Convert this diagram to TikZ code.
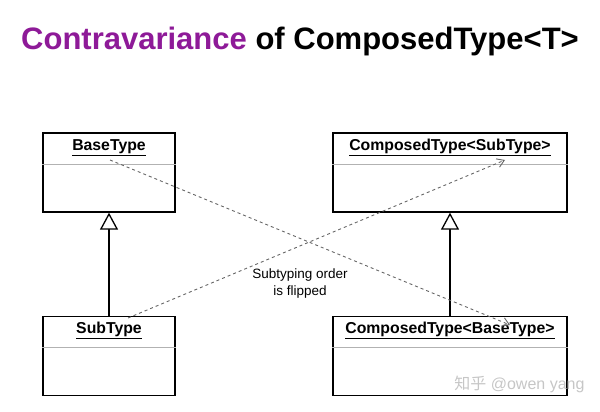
\documentclass[tikz,border=0pt]{standalone}
\usepackage{fontspec}
\setmainfont{Liberation Sans}
\newfontfamily\cjk{Noto Sans CJK SC}
\usetikzlibrary{arrows.meta}
\definecolor{purp}{HTML}{8E1A98}
\begin{document}
\begin{tikzpicture}[x=1pt,y=-1pt,
  cls/.style={draw,line width=1.3pt,minimum width=#1,minimum height=79,inner sep=0},
  lbl/.style={font=\bfseries\fontsize{15.8}{18}\selectfont},
  dep/.style={draw=gray!80!black,dashed,line width=0.9pt,-{Straight Barb[length=7,width=9]}},
  inh/.style={draw,line width=1.3pt,-{Triangle[open,length=17,width=18,fill=white]}}]
\useasboundingbox (0,0) rectangle (600,412);
\node[font=\bfseries\fontsize{31}{34}\selectfont] (title) at (300,41) {\textcolor{purp}{Contravariance} of ComposedType<T>};
\node[cls=132] (base) at (109,172.5) {};
\node[cls=234] (ctsub) at (450,172.5) {};
\node[cls=132] (sub) at (109,356) {};
\node[cls=234] (ctbase) at (450,356) {};
\foreach \n/\t in {base/BaseType,ctsub/ComposedType<SubType>,sub/SubType,ctbase/ComposedType<BaseType>}{
  \draw[gray!60,line width=1pt] ([yshift=-32]\n.north west) -- ([yshift=-32]\n.north east);
  \node[lbl,anchor=center] (\n-t) at ([yshift=-15]\n.north) {\underline{\t}};
}
\draw[inh] (sub.north) -- (base.south);
\draw[inh] (ctbase.north) -- (ctsub.south);
\coordinate (a1) at (110,160);
\coordinate (a2) at (510,325);
\coordinate (b1) at (128,318);
\coordinate (b2) at (505,160);
\draw[dep] (a1) -- (a2);
\draw[dep] (b1) -- (b2);
\node[font=\fontsize{13.5}{17}\selectfont,align=center] (note) at (300,284) {Subtyping order\\is flipped};
\node[text=gray!45,font=\fontsize{16}{18}\selectfont,anchor=east] (wm) at (588,384) {{\cjk 知乎} @owen yang};
\end{tikzpicture}
\end{document}
